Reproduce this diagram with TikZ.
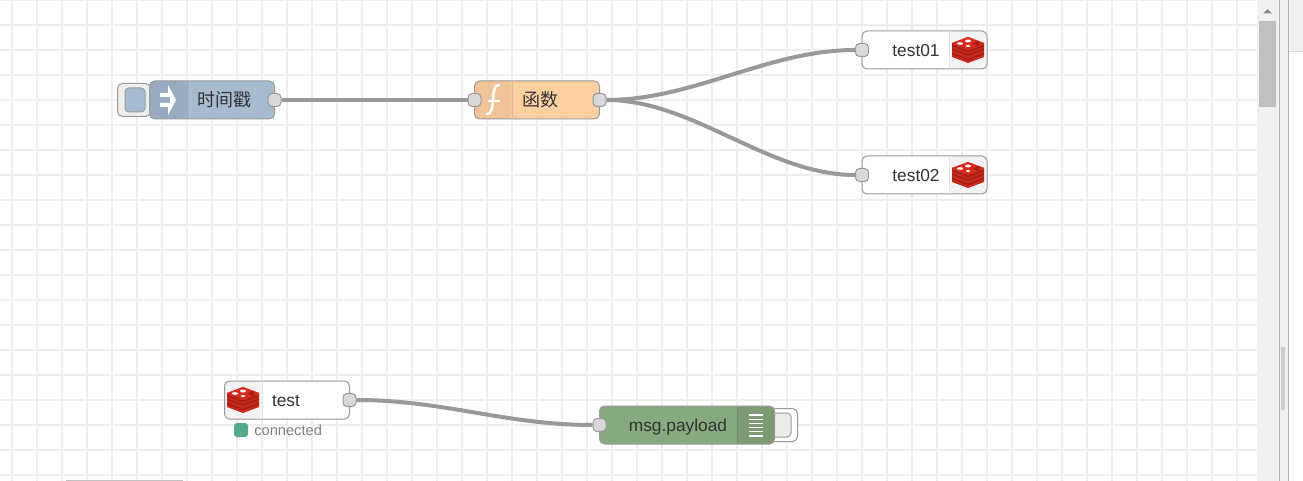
\documentclass[tikz,border=0pt]{standalone}
\usepackage{fontspec}
\setmainfont{Liberation Sans}
\newfontfamily\cjk{Noto Sans CJK SC}
\definecolor{gridc}{HTML}{EEEEEE}
\definecolor{edgec}{HTML}{999999}
\definecolor{portc}{HTML}{D9D9D9}
\definecolor{wirec}{HTML}{999999}
\definecolor{injc}{HTML}{A6BBCF}
\definecolor{injic}{HTML}{98ABC0}
\definecolor{func}{HTML}{FDD0A2}
\definecolor{funic}{HTML}{F0C498}
\definecolor{dbgc}{HTML}{87A980}
\definecolor{dbgic}{HTML}{7C9B75}
\definecolor{redisic}{HTML}{F3F3F3}
\definecolor{redisd}{HTML}{A41E11}
\definecolor{redisb}{HTML}{D82C20}
\definecolor{statc}{HTML}{55AA88}
\definecolor{txtc}{HTML}{333333}
\definecolor{barc}{HTML}{F0F0F0}
\tikzstyle{flownode}=[draw=edgec,line width=0.75pt,rounded corners=3.75pt,inner sep=0,minimum width=93.75pt,minimum height=28.5pt]
\tikzstyle{port}=[draw=edgec,fill=portc,line width=0.75pt,rounded corners=3pt,inner sep=0,minimum width=9.75pt,minimum height=9.75pt]
\tikzstyle{btn}=[draw=edgec,line width=0.75pt,rounded corners=3.75pt,inner sep=0]
\tikzstyle{wire}=[draw=wirec,line width=3pt]
\tikzstyle{lab}=[text=txtc,font=\fontsize{13}{15}\selectfont,inner sep=0,text height=9.4pt,text depth=0pt]
\tikzstyle{cjklab}=[text=txtc,font=\cjk\fontsize{13.5}{15}\selectfont,inner sep=0]
\tikzset{
  iconleft/.style={path picture={\fill[#1] (path picture bounding box.south west) rectangle +(37,-38);}},
  iconright/.style={path picture={\fill[#1] (path picture bounding box.south east) rectangle +(-38,-38);}}
}
\newcommand{\redisicon}[2]{%
  \begin{scope}[shift={(#1,#2)}]
    \fill[redisb!92!black] (-16,-7) -- (0,-13) -- (16,-7) -- (16,7) -- (0,13) -- (-16,7) -- cycle;
    \foreach \d in {-0.5,3,7.5} \draw[redisd,line width=1pt] (-16,-4+\d) -- (0,2+\d) -- (16,-4+\d);
    \fill[redisb] (-16,-7) -- (0,-13) -- (16,-7) -- (0,-1) -- cycle;
    \fill[redisd] (4,-6.5) -- (11,-9) -- (11,-4) -- cycle;
    \fill[white] (0,-9) ellipse (3 and 1.5);
    \fill[white] (-8,-6.5) ellipse (3 and 1.3);
    \fill[white] (0,-4) ellipse (2 and 1);
  \end{scope}}
\begin{document}
\begin{tikzpicture}[x=0.75pt,y=-0.75pt]

   \useasboundingbox (0,0) rectangle (1303,481);
   \fill[white] (0,0) rectangle (1303,481);

   % Grid

   \foreach \gx in {0,...,49} \draw[gridc,line width=1.5pt] (12+25*\gx,0) -- (12+25*\gx,481);
   \foreach \gy in {0,...,19} \draw[gridc,line width=1.5pt] (0,25*\gy) -- (1257,25*\gy);

   % Scroll bars

   \fill[barc] (1257,0) rectangle (1279,481);
   \fill[barc] (1279,0) rectangle (1288,481);
   \fill[barc] (1289,0) rectangle (1303,52);
   \draw[black!30,line width=0.75pt] (1279,0) -- (1279,481);
   \draw[black!30,line width=0.75pt] (1288.5,0) -- (1288.5,481);
   \draw[black!15,line width=0.75pt] (1289,52) -- (1303,52);
   \fill[black!25] (1259,21) rectangle (1276,107);
   \fill[black!45] (1263,13.5) -- (1267.5,9) -- (1272,13.5) -- cycle;
   \fill[black!20] (1281,347) rectangle (1285,410);
   \fill[black!25] (66,480) rectangle (183,481);

   % Inject node

   \node[btn,fill=gridc,minimum width=24.75pt,minimum height=24.75pt] (injbtn) at (134,100) {};
   \node[btn,fill=injc,rounded corners=3pt,minimum width=15pt,minimum height=18pt] (injbtnin) at (135,100) {};
   \node[flownode,fill=injc,iconleft=injic] (inject) at (212,100) {};
   \draw[edgec!40!injic,line width=0.4pt] (187,81) -- (187,119);
   \fill[white] (160,93) -- (168,93) -- (168,85) -- (176,100) -- (168,115) -- (168,107) -- (160,107) -- (160,103) -- (170,103) -- (170,97) -- (160,97) -- cycle;
   \node[cjklab] (injlab) at (224.5,100) {时间戳};
   \node[port] (injout) at (274.5,100) {};

   % Function node

   \node[flownode,fill=func,iconleft=funic] (fun) at (537,100) {};
   \draw[edgec!25!funic,line width=0.4pt] (512,81) -- (512,119);
   \draw[white,line width=1.8pt] (500,85) .. controls (494,84) and (494,90) .. (493,98) .. controls (492,108) and (492,115) .. (486,114);
   \draw[white,line width=1.2pt] (488,101) -- (500,101);
   \node[cjklab] (funlab) at (540,100) {函数};
   \node[port] (funin) at (474.5,100) {};
   \node[port] (funout) at (599.5,100) {};

   % Redis out nodes

   \node[flownode,fill=white,iconright=redisic] (outa) at (924.5,50) {};
   \draw[black!12,line width=0.5pt] (949,31) -- (949,69);
   \redisicon{968}{50}
   \node[lab] (outalab) at (916,50) {test01};
   \node[port] (outain) at (862,50) {};

   \node[flownode,fill=white,iconright=redisic] (outb) at (924.5,175) {};
   \draw[black!12,line width=0.5pt] (949,156) -- (949,194);
   \redisicon{968}{175}
   \node[lab] (outblab) at (916,175) {test02};
   \node[port] (outbin) at (862,175) {};

   % Redis in node

   \node[flownode,fill=white,iconleft=redisic] (redin) at (287,400) {};
   \draw[black!12,line width=0.5pt] (262,381) -- (262,419);
   \redisicon{243}{400}
   \node[lab] (redlab) at (286,400) {test};
   \node[port] (redout) at (349.5,400) {};
   \node[draw=none,fill=statc,rounded corners=2.25pt,inner sep=0,minimum width=10.5pt,minimum height=10.5pt] (stat) at (241,430) {};
   \node[inner sep=0,text=black!50,font=\fontsize{11}{13}\selectfont,anchor=west] (statlab) at (254,430) {connected};

   % Debug node

   \node[btn,fill=white,minimum width=22.5pt,minimum height=24.75pt] (dbgbtn) at (782.5,425) {};
   \node[btn,fill=dbgc!20,rounded corners=3pt,minimum width=18pt,minimum height=18pt] (dbgbtnin) at (779,425) {};
   \node[flownode,fill=dbgc,iconright=dbgic,minimum width=131.25pt] (dbg) at (687,425) {};
   \draw[dbgic!90!black,line width=0.4pt] (737,406) -- (737,444);
   \foreach \ly in {415,419.2,423.4,427.6,431.8,436} \draw[white,line width=1pt] (749,\ly) -- (763,\ly);
   \node[lab] (dbglab) at (678,425) {msg.payload};
   \node[port] (dbgin) at (599.5,425) {};

   % Wires

   \draw[wire] (injout.east) -- (funin.west);
   \draw[wire] (funout.east) .. controls +(87,0) and +(-87,0) .. (outain.west);
   \draw[wire] (funout.east) .. controls +(87,0) and +(-87,0) .. (outbin.west);
   \draw[wire] (redout.east) .. controls +(87,0) and +(-87,0) .. (dbgin.west);

\end{tikzpicture}
\end{document}
